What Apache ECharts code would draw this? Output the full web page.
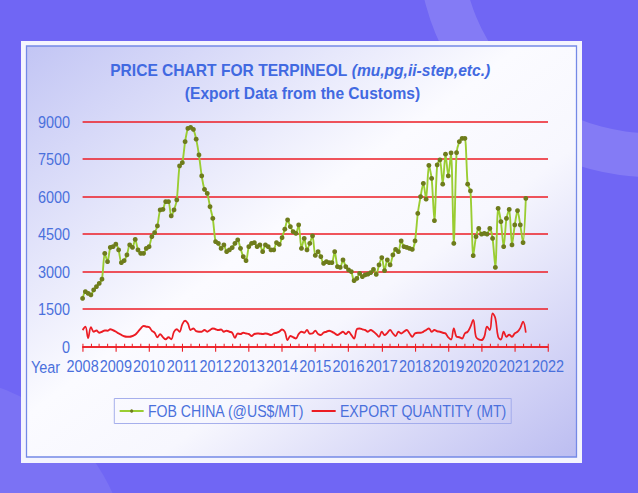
<!DOCTYPE html>
<html>
<head>
<meta charset="utf-8">
<script src="https://cdn.jsdelivr.net/npm/echarts@6/dist/echarts.min.js"></script>
<style>
html,body{margin:0;padding:0;background:#7066f4;overflow:hidden;}
#wrap{width:638px;height:493px;overflow:hidden;position:relative;}
#c{width:750px;height:493px;transform:scaleX(0.850667);transform-origin:0 0;}
</style>
</head>
<body>
<div id="wrap"><div id="c"></div></div>
<script>
// ---- data (monthly, Jan 2008 .. May 2021) ----
const startYear = 2008;
const yearMin = 2008;
const yearMax = 2022;
const yMax = 9000;
const yStep = 1500;

const priceFOB = [
 1930,2200,2130,2070,2270,2400,2530,2700,3730,3400,
 3970,4000,4100,3870,3360,3440,3670,4070,3970,4290,
 3870,3730,3730,3930,4000,4400,4560,4830,5470,5490,
 5800,5800,5230,5470,5870,7230,7360,8200,8730,8770,
 8690,8300,7670,6830,6290,6130,5600,5130,4200,4130,
 3930,4070,3800,3870,3960,4130,4270,3930,3600,3440,
 4000,4130,4160,4000,4070,3800,4070,4000,3870,3870,
 4160,4090,4360,4700,5070,4800,4600,4530,4870,3930,
 4330,3870,4130,4430,3650,3800,3600,3330,3400,3360,
 3360,3800,3200,3170,3470,3200,3070,3000,2640,2730,
 2930,2800,2870,2900,2960,3090,2890,3270,3560,3040,
 3470,3270,3670,3890,3800,4230,4000,3970,3930,3890,
 4230,5330,6000,6530,5900,7250,6730,5040,7270,7470,
 6500,7700,6830,7750,4130,7760,8200,8330,8330,6500,
 6230,3640,4400,4730,4500,4530,4500,4730,4330,3170,
 5530,5000,4000,5130,5490,4070,4870,5440,4870,4160,
 5930
];

const exportQty = [
 667,800,350,780,600,650,560,600,650,640,
 700,660,600,530,470,420,400,400,430,480,
 600,730,830,800,780,640,560,380,500,380,
 300,380,300,600,700,600,900,1040,930,670,
 730,620,600,600,667,600,667,733,700,667,
 693,600,640,600,560,360,533,507,560,530,
 507,427,507,533,520,507,533,507,467,533,
 560,600,690,600,270,427,380,333,507,600,
 560,667,520,533,640,507,467,560,600,640,
 600,533,467,530,600,507,600,467,330,700,
 733,693,667,600,667,600,507,400,600,467,
 550,667,533,427,600,533,600,667,533,400,
 533,560,560,600,667,733,600,667,620,600,
 560,533,373,293,733,400,380,333,533,600,
 800,1067,400,293,267,400,800,667,1333,1133,
 400,293,600,400,480,400,533,600,750,1000,
 560
];

const seriesNames = ['FOB CHINA (@US$/MT)', 'EXPORT QUANTITY (MT)'];
const titleMain = 'PRICE CHART FOR TERPINEOL';
const titleItalic = '(mu,pg,ii-step,etc.)';
const titleSub = '(Export Data from the Customs)';
const xName = 'Year';

// ---- build ----
// The chart is drawn 750px wide and squeezed to 638px (condensed look of the original).
const S = 638 / 750;
const X = v => v / S;           // final-pixel x -> drawing x
const toPairs = arr => arr.map((v, i) => [startYear + i / 12, v]);
const FONT = '"Liberation Sans", Arial, sans-serif';
const LABEL_BLUE = '#4a70dc';
const TITLE_BLUE = '#4169e1';
const RED = '#ec1c24';
const GREEN = '#9acd32';
const OLIVE = '#6e7c1c';
const BG = '#7066f4';
const gridRect = { left: X(82.6), right: X(90), top: 121.7, bottom: 146.3 };
const titleScale = 0.956 / S;

const chart = echarts.init(document.getElementById('c'), null, { renderer: 'svg' });
chart.setOption({
  backgroundColor: BG,
  animation: false,
  graphic: [
    { type: 'ring', z: -20, x: X(650), y: -55, scaleX: 1 / S,
      shape: { cx: 0, cy: 0, r: 232, r0: 188 }, style: { fill: 'rgba(255,255,255,0.14)' } },
    { type: 'circle', z: -19, x: X(-70), y: 575, scaleX: 1 / S,
      shape: { cx: 0, cy: 0, r: 200 }, style: { fill: 'rgba(255,255,255,0.08)' } },
    { type: 'rect', z: -15, shape: { x: X(21), y: 41, width: X(561), height: 422 }, style: { fill: '#f4f4fe' } },
    { type: 'rect', z: -14, shape: { x: X(26.5), y: 46, width: X(550), height: 411 },
      style: {
        fill: new echarts.graphic.LinearGradient(0, 0, 1, 1, [
          { offset: 0, color: '#c2c5f4' },
          { offset: 0.45, color: '#fbfbff' },
          { offset: 0.62, color: '#f7f7fe' },
          { offset: 1, color: '#bcbdf1' }
        ]),
        stroke: '#7489e6', lineWidth: 1.5
      } },
    { type: 'text', z: 100, x: X(347.3), y: 70, scaleX: titleScale,
      style: { text: titleMain, align: 'right', verticalAlign: 'middle',
        font: 'bold 16.3px ' + FONT, fill: TITLE_BLUE } },
    { type: 'text', z: 100, x: X(351.7), y: 70, scaleX: titleScale,
      style: { text: titleItalic, align: 'left', verticalAlign: 'middle',
        font: 'italic bold 16.3px ' + FONT, fill: TITLE_BLUE } },
    { type: 'text', z: 100, x: X(302.5), y: 93.5, scaleX: titleScale,
      style: { text: titleSub, align: 'center', verticalAlign: 'middle',
        font: 'bold 16.3px ' + FONT, fill: TITLE_BLUE } },
    { type: 'text', z: 100, x: X(45.5), y: 367,
      style: { text: xName, align: 'center', verticalAlign: 'middle',
        font: '17px ' + FONT, fill: LABEL_BLUE } }
  ],
  legend: {
    left: X(114.3), top: 398.5,
    padding: [4, X(4.5)],
    itemGap: X(7.5), itemWidth: X(24), itemHeight: 4.5,
    borderColor: '#9ea8ea', borderWidth: 1,
    textStyle: { fontFamily: FONT, fontSize: 16.6, color: LABEL_BLUE },
    data: [
      { name: seriesNames[0] },
      { name: seriesNames[1], icon: 'path://M0,0h14v1h-14z', itemStyle: { color: RED } }
    ]
  },
  grid: [
    Object.assign({ containLabel: false }, gridRect),
    Object.assign({ containLabel: false }, gridRect)
  ],
  xAxis: [
    {
      type: 'value', gridIndex: 0, min: yearMin, max: yearMax, interval: 1,
      axisLine: { show: true, lineStyle: { color: RED, width: 1.5 } },
      axisTick: { show: true, length: 5, lineStyle: { color: RED, width: 1.3 } },
      axisLabel: { margin: 11, color: LABEL_BLUE, fontFamily: FONT, fontSize: 17,
        showMinLabel: true, showMaxLabel: true, hideOverlap: false,
        formatter: v => String(Math.round(v)) },
      splitLine: { show: false }
    },
    {
      type: 'value', gridIndex: 1, min: yearMin, max: yearMax, interval: 0.25,
      axisLine: { show: false },
      axisTick: { show: true, inside: true, length: 3, lineStyle: { color: RED, width: 1.2 } },
      axisLabel: { show: false },
      splitLine: { show: false }
    }
  ],
  yAxis: [
    {
      type: 'value', gridIndex: 0, min: 0, max: yMax, interval: yStep,
      axisLine: { show: false }, axisTick: { show: false },
      axisLabel: { margin: X(12.5), color: LABEL_BLUE, fontFamily: FONT, fontSize: 17,
        formatter: v => String(v) },
      splitLine: { show: true, lineStyle: { color: RED, width: 1.5 } }
    },
    { type: 'value', gridIndex: 1, min: 0, max: yMax, show: false }
  ],
  series: [
    {
      name: seriesNames[0], type: 'line', xAxisIndex: 0, yAxisIndex: 0,
      data: toPairs(priceFOB),
      smooth: 0.25,
      symbol: 'circle', symbolSize: [X(4.8), 4.8], showSymbol: true,
      lineStyle: { color: GREEN, width: 2.2 },
      itemStyle: { color: OLIVE },
      z: 4
    },
    {
      name: seriesNames[1], type: 'line', xAxisIndex: 0, yAxisIndex: 0,
      data: toPairs(exportQty),
      smooth: 0.4,
      symbol: 'none',
      lineStyle: { color: RED, width: 2 },
      itemStyle: { color: RED },
      z: 3
    }
  ]
});
</script>
</body>
</html>
